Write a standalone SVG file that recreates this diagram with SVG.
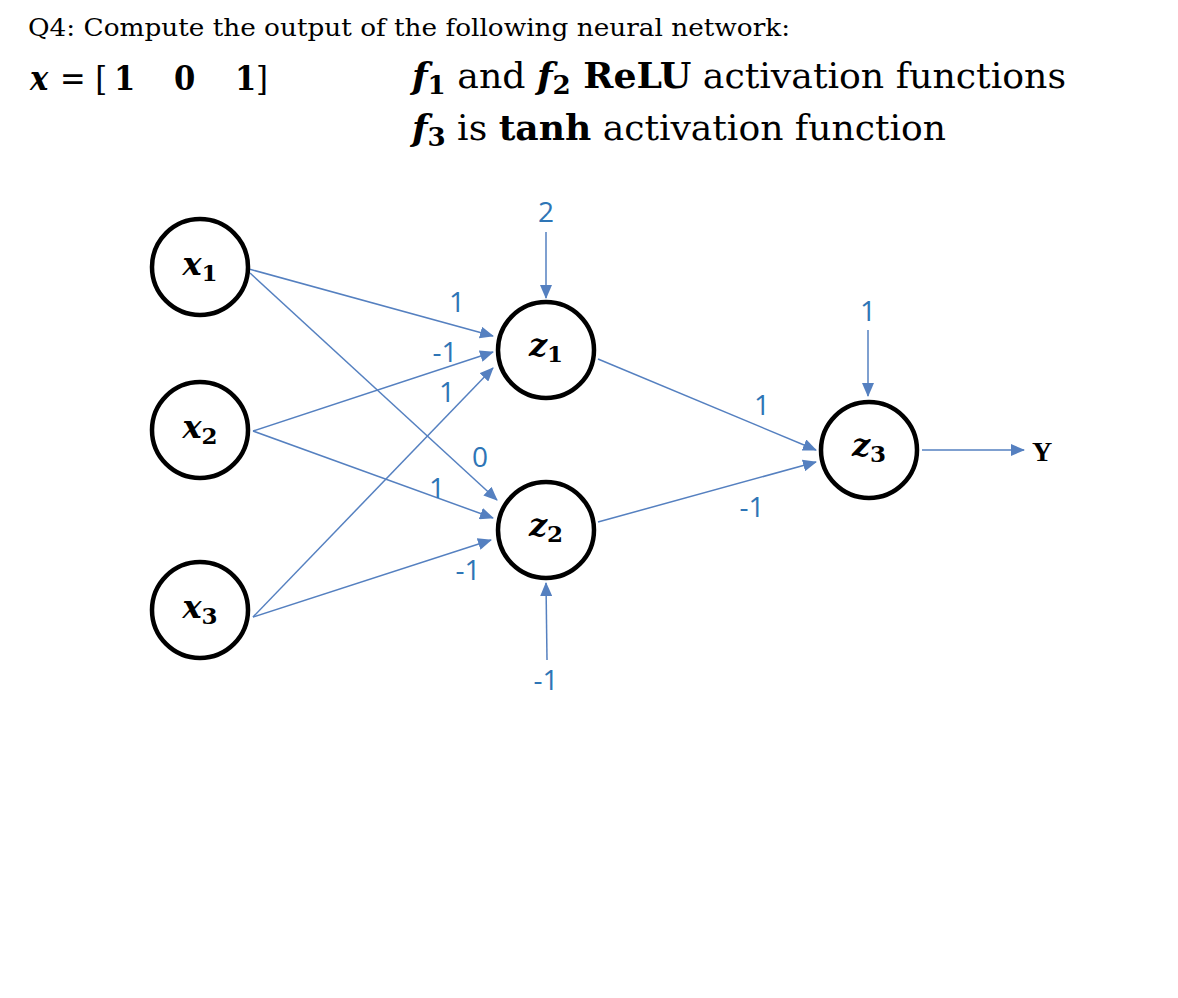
<svg xmlns="http://www.w3.org/2000/svg" width="1178" height="998" viewBox="0 0 1178 998">
<defs>
<marker id="ah" markerWidth="14" markerHeight="12" refX="13" refY="6" orient="auto" markerUnits="userSpaceOnUse"><path d="M0,0 L14,6 L0,12 z" fill="#5580C0"/></marker>
<style>
.n{fill:#fff;stroke:#000;stroke-width:4.5}
.nl{font-family:"DejaVu Serif","Liberation Serif",serif;font-weight:bold;font-style:italic;font-size:32px;text-anchor:middle}
.sub{font-size:23px;font-style:normal}
.e{stroke:#5580C0;stroke-width:1.5;fill:none;marker-end:url(#ah)}
.w{font-family:"Open Sans","Liberation Sans",sans-serif;font-size:28px;fill:#2E75B6;text-anchor:middle}
.t{font-family:"DejaVu Serif Condensed","Liberation Serif",serif}
</style>
</defs>
<rect width="1178" height="998" fill="#fff"/>
<text class="t" x="28" y="36" font-size="24" textLength="762" lengthAdjust="spacingAndGlyphs">Q4: Compute the output of the following neural network:</text>
<g class="t" font-size="34" font-weight="bold">
<text x="30" y="90" font-style="italic">x</text>
<text x="60" y="90" font-weight="normal">= [</text>
<text x="114" y="90">1</text>
<text x="174" y="90">0</text>
<text x="235" y="90">1</text>
<text x="256" y="90" font-weight="normal">]</text>
</g>
<text class="t" x="412" y="88" font-size="36" textLength="654" lengthAdjust="spacingAndGlyphs"><tspan font-style="italic" font-weight="bold">f</tspan><tspan font-weight="bold" font-size="26" dy="6">1</tspan><tspan dy="-6"> and </tspan><tspan font-style="italic" font-weight="bold">f</tspan><tspan font-weight="bold" font-size="26" dy="6">2</tspan><tspan dy="-6" font-weight="bold"> ReLU</tspan> activation functions</text>
<text class="t" x="412" y="140" font-size="36" textLength="534" lengthAdjust="spacingAndGlyphs"><tspan font-style="italic" font-weight="bold">f</tspan><tspan font-weight="bold" font-size="26" dy="6">3</tspan><tspan dy="-6"> is </tspan><tspan font-weight="bold">tanh</tspan> activation function</text>
<g id="connectors">
<line class="e" x1="249" y1="269" x2="493" y2="336"/>
<line class="e" x1="250" y1="273" x2="497" y2="500"/>
<line class="e" x1="253" y1="431" x2="493" y2="352"/>
<line class="e" x1="253" y1="431" x2="493" y2="518"/>
<line class="e" x1="253" y1="617" x2="493" y2="368"/>
<line class="e" x1="253" y1="617" x2="491" y2="540"/>
<line class="e" x1="546" y1="232" x2="546" y2="298"/>
<line class="e" x1="547" y1="660" x2="546" y2="583"/>
<line class="e" x1="598" y1="359" x2="816" y2="450"/>
<line class="e" x1="598" y1="522" x2="816" y2="462"/>
<line class="e" x1="868" y1="330" x2="868" y2="396"/>
<line class="e" x1="922" y1="450" x2="1024" y2="450"/>
</g>
<g id="weights">
<text class="w" x="546" y="222">2</text>
<text class="w" x="457" y="312">1</text>
<text class="w" x="445" y="362">-1</text>
<text class="w" x="447" y="402">1</text>
<text class="w" x="480" y="467">0</text>
<text class="w" x="437" y="498">1</text>
<text class="w" x="468" y="580">-1</text>
<text class="w" x="546" y="690">-1</text>
<text class="w" x="868" y="321">1</text>
<text class="w" x="762" y="415">1</text>
<text class="w" x="752" y="517">-1</text>
</g>
<g id="x1"><circle class="n" cx="200" cy="267" r="48"/><text class="nl" x="200" y="275">x<tspan class="sub" dy="6">1</tspan></text></g>
<g id="x2"><circle class="n" cx="200" cy="430" r="48"/><text class="nl" x="200" y="438">x<tspan class="sub" dy="6">2</tspan></text></g>
<g id="x3"><circle class="n" cx="200" cy="610" r="48"/><text class="nl" x="200" y="618">x<tspan class="sub" dy="6">3</tspan></text></g>
<g id="z1"><circle class="n" cx="546" cy="350" r="48"/><text class="nl" x="546" y="356">z<tspan class="sub" dy="6">1</tspan></text></g>
<g id="z2"><circle class="n" cx="546" cy="530" r="48"/><text class="nl" x="546" y="536">z<tspan class="sub" dy="6">2</tspan></text></g>
<g id="z3"><circle class="n" cx="869" cy="450" r="48"/><text class="nl" x="869" y="456">z<tspan class="sub" dy="6">3</tspan></text></g>
<text x="1042" y="461" font-family="Liberation Serif,serif" font-weight="bold" font-size="28" text-anchor="middle">Y</text>
</svg>
